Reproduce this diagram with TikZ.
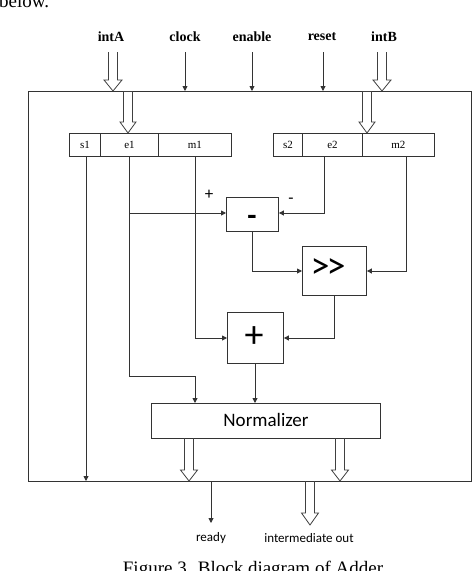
\documentclass[tikz,border=0pt]{standalone}
\usepackage{fontspec}
\setmainfont{Liberation Serif}
\newfontfamily\calfont{Carlito}
\usetikzlibrary{arrows.meta,calc}
\tikzset{
  ln/.style={draw=black!80, line width=0.9pt},
  arr/.style={ln, -{Triangle[length=5pt,width=5pt]}},
  bus/.style={draw=black!75, line width=0.8pt, line join=miter},
  blk/.style={ln, rectangle, inner sep=0pt, anchor=north west},
  reg/.style={ln, rectangle, inner sep=0pt, anchor=north west, minimum height=23pt, font=\fontsize{11}{11}\selectfont},
  inlbl/.style={font=\fontsize{14}{14}\selectfont\bfseries, inner sep=0pt},
  outlbl/.style={font=\calfont\fontsize{13}{13}\selectfont, inner sep=0pt},
}
% vertical hollow bus arrow from #1 (top) to #2 (tip); #3 = half width, #4 = half head width, #5 head length
\newcommand{\busarrow}[5]{%
  \draw[bus] let \p1=(#1), \p2=(#2) in
    (\x2-#3,\y1) -- (\x2-#3,\y2+#5) -- (\x2-#4,\y2+#5) -- (\x2,\y2) -- (\x2+#4,\y2+#5) -- (\x2+#3,\y2+#5) -- (\x2+#3,\y1);}
\begin{document}
\begin{tikzpicture}[x=1pt,y=-1pt]
\useasboundingbox (0,0) rectangle (474,571);
\fill[white] (0,0) rectangle (474,571);
\begin{scope}
\clip (0,0) rectangle (474,571);
\node[anchor=base west, inner sep=0pt, font=\fontsize{19}{19}\selectfont] (below) at (-1,7) {below.};
\node[anchor=base, inner sep=0pt, font=\fontsize{19}{19}\selectfont] (cap) at (253,574) {Figure 3. Block diagram of Adder};
\end{scope}

% outer box
\node[blk, minimum width=443pt, minimum height=390pt] (outer) at (28,91) {};

% input labels
\node[inlbl] (intA) at (111,37) {intA};
\node[inlbl] (clock) at (185,37) {clock};
\node[inlbl] (enable) at (252,37) {enable};
\node[inlbl] (reset) at (322,37) {reset};
\node[inlbl] (intB) at (384,37) {intB};

\coordinate (aT) at (113,52); \coordinate (aB) at (113,91);
\coordinate (bT) at (382,52); \coordinate (bB) at (382,91);
\busarrow{aT}{aB}{4.5pt}{9pt}{11pt}
\busarrow{bT}{bB}{4.5pt}{9pt}{11pt}
\coordinate (ckT) at (185,52); \coordinate (ckB) at (185,91);
\coordinate (enT) at (252,52); \coordinate (enB) at (252,91);
\coordinate (rsT) at (323,52); \coordinate (rsB) at (323,91);
\draw[arr] (ckT) -- (ckB);
\draw[arr] (enT) -- (enB);
\draw[arr] (rsT) -- (rsB);

% registers
\node[reg, minimum width=31pt] (s1) at (69,133) {s1};
\node[reg, minimum width=58pt] (e1) at (100,133) {e1};
\node[reg, minimum width=73pt] (m1) at (158,133) {m1};
\node[reg, minimum width=29pt] (s2) at (273,133) {s2};
\node[reg, minimum width=60pt] (e2) at (302,133) {e2};
\node[reg, minimum width=72pt] (m2) at (362,133) {m2};

% inner bus arrows
\coordinate (iaT) at (128,91); \coordinate (iaB) at (128,133);
\coordinate (ibT) at (367,91); \coordinate (ibB) at (367,133);
\draw[bus] (123.5,91) -- (132.5,91);
\draw[bus] (362.5,91) -- (371.5,91);
\busarrow{iaT}{iaB}{4.5pt}{8pt}{11pt}
\busarrow{ibT}{ibB}{4.5pt}{8pt}{11pt}

% blocks
\node[blk, minimum width=52pt, minimum height=34pt] (sub) at (226,197) {};
\node[font=\calfont\fontsize{30}{30}\selectfont\bfseries, inner sep=0pt] (subl) at (252,220) {-};
\node[blk, minimum width=64pt, minimum height=49pt] (shr) at (302,246) {};
\node[font=\calfont\fontsize{38}{38}\selectfont, inner sep=0pt] (shrl) at (328,269) {>\kern-3pt>};
\node[blk, minimum width=56pt, minimum height=51pt] (add) at (227,312) {};
\node[font=\calfont\fontsize{38}{38}\selectfont, inner sep=0pt] (addl) at (254,337) {+};
\node[blk, minimum width=229pt, minimum height=35pt] (norm) at (151,403) {};
\node[font=\calfont\fontsize{19}{19}\selectfont, inner sep=0pt] (norml) at (266,420) {Normalizer};

\node[font=\calfont\fontsize{17}{17}\selectfont, inner sep=0pt] (plus) at (209,195) {+};
\node[font=\calfont\fontsize{17}{17}\selectfont, inner sep=0pt] (minus) at (291,201) {-};

% connections
\coordinate (s1o) at (86,156); \coordinate (s1e) at (86,481);
\draw[arr] (s1o) -- (s1e);

\coordinate (e1o) at (129,156);
\coordinate (e1j) at (129,213);
\coordinate (e1k) at (129,376);
\coordinate (e1l) at (195,376);
\coordinate (n1) at (195,403);
\draw[arr] (e1j) -- (sub.west |- e1j);
\draw[arr] (e1o) -- (e1k) -- (e1l) -- (n1);

\coordinate (e2o) at (324,156); \coordinate (e2k) at (324,213);
\draw[arr] (e2o) -- (e2k) -- (sub.east |- e2k);

\coordinate (m2o) at (406,156); \coordinate (m2k) at (406,271);
\draw[arr] (m2o) -- (m2k) -- (shr.east |- m2k);

\coordinate (subk) at (252,271);
\draw[arr] (252,231) -- (subk) -- (shr.west |- subk);

\coordinate (m1o) at (195,156); \coordinate (m1k) at (195,338);
\draw[arr] (m1o) -- (m1k) -- (add.west |- m1k);

\coordinate (shro) at (334,295); \coordinate (shrk) at (334,338);
\draw[arr] (shro) -- (shrk) -- (add.east |- shrk);

\coordinate (addo) at (255,363); \coordinate (n2) at (255,403);
\draw[arr] (addo) -- (n2);

% normalizer outputs
\coordinate (o1T) at (189,438); \coordinate (o1B) at (189,481);
\coordinate (o2T) at (340,438); \coordinate (o2B) at (340,481);
\busarrow{o1T}{o1B}{4.5pt}{8.5pt}{11pt}
\busarrow{o2T}{o2B}{4.5pt}{8.5pt}{11pt}

% outputs
\coordinate (rdT) at (211,481); \coordinate (rdB) at (211,523);
\draw[arr] (rdT) -- (rdB);
\coordinate (ioT) at (310,481); \coordinate (ioB) at (310,525);
\busarrow{ioT}{ioB}{4.5pt}{8.5pt}{12pt}
\node[outlbl] (ready) at (211,538) {ready};
\node[outlbl] (interm) at (309,538) {intermediate out};
\end{tikzpicture}
\end{document}
